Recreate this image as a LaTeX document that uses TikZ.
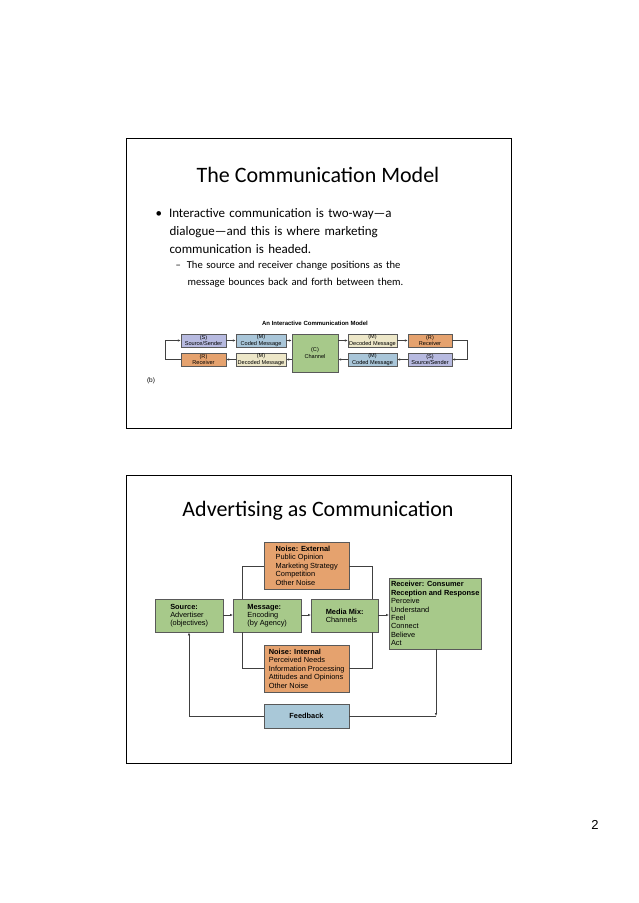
\documentclass[tikz,border=0pt]{standalone}
\usepackage{fontspec}
\setmainfont{Carlito}
\newfontfamily\arialf{Liberation Sans}
\usetikzlibrary{arrows.meta}
\definecolor{cpur}{HTML}{B7BAE0}
\definecolor{cblu}{HTML}{A9C6D9}
\definecolor{cbei}{HTML}{EDE7C8}
\definecolor{cgrn}{HTML}{A7C98A}
\definecolor{corg}{HTML}{E5A26E}
\definecolor{cfb}{HTML}{A9C8D8}
\tikzset{
 bx/.style={draw=gray!70!black,line width=0.4pt,inner sep=0pt,font=\arialf\fontsize{5.6}{6.6}\selectfont,align=center},
 bb/.style={draw=gray!70!black,line width=0.4pt,anchor=north west,inner sep=2.5pt,font=\arialf\fontsize{7.4}{8.4}\selectfont,align=left},
 ln/.style={draw=black!75,line width=0.7pt},
 ar/.style={ln,-{Latex[length=3pt,width=2.5pt]}},
 frame/.style={draw=black,line width=0.6pt}
}
\begin{document}
\begin{tikzpicture}[x=1pt,y=-1pt]
\useasboundingbox[fill=white] (0,0) rectangle (638,903);
% slide 1
\draw[frame] (126,138) rectangle (511,428);
\node[font=\fontsize{22}{26}\selectfont] (t1) at (318,175) {The Communication Model};
\node[anchor=north west,font=\fontsize{13}{18}\selectfont,align=left,text width=300pt] (b1) at (152,205)
 {\textbullet\hspace{7pt}Interactive communication is two-way---a\\
 \hspace{14pt}dialogue---and this is where marketing\\
 \hspace{14pt}communication is headed.};
\node[anchor=north west,font=\fontsize{10.6}{16.5}\selectfont,align=left,text width=300pt] (b2) at (172,258)
 {--\hspace{6pt}The source and receiver change positions as the\\
 \hspace{12pt}message bounces back and forth between them.};
\node[font=\arialf\bfseries\fontsize{6}{7}\selectfont] (mt) at (315,323) {An Interactive Communication Model};
\node[bx,fill=cpur,minimum width=45pt,minimum height=13pt] (s1) at (203.5,340.5) {(S)\\Source/Sender};
\node[bx,fill=corg,minimum width=45pt,minimum height=13pt] (r1) at (203.5,359.5) {(R)\\Receiver};
\node[bx,fill=cblu,minimum width=50pt,minimum height=13pt] (c1) at (261,340.5) {(M)\\Coded Message};
\node[bx,fill=cbei,minimum width=50pt,minimum height=13pt] (d1) at (261,359.5) {(M)\\Decoded Message};
\node[bx,fill=cgrn,minimum width=46pt,minimum height=38pt] (ch) at (315,353) {(C)\\Channel};
\node[bx,fill=cbei,minimum width=49pt,minimum height=13pt] (d2) at (372.5,340.5) {(M)\\Decoded Message};
\node[bx,fill=cblu,minimum width=49pt,minimum height=13pt] (c2) at (372.5,359.5) {(M)\\Coded Message};
\node[bx,fill=corg,minimum width=44pt,minimum height=13pt] (r2) at (430,340.5) {(R)\\Receiver};
\node[bx,fill=cpur,minimum width=44pt,minimum height=13pt] (s2) at (430,359.5) {(S)\\Source/Sender};
\draw[ar] (s1.east) -- (c1.west);
\draw[ar] (c1.east) -- (ch.west|-c1.east);
\draw[ar] (ch.east|-d2.west) -- (d2.west);
\draw[ar] (d2.east) -- (r2.west);
\draw[ar] (s2.west) -- (c2.east);
\draw[ar] (c2.west) -- (ch.east|-c2.west);
\draw[ar] (ch.west|-d1.east) -- (d1.east);
\draw[ar] (d1.west) -- (r1.east);
\draw[ar] (r1.west) -- ++(-15,0) |- (s1.west);
\draw[ar] (r2.east) -- ++(15,0) |- (s2.east);
\node[font=\arialf\fontsize{6.5}{8}\selectfont] (lb) at (151,381) {(b)};
% slide 2
\draw[frame] (126,475) rectangle (511,763);
\node[font=\fontsize{22}{26}\selectfont] (t2) at (318,511) {Advertising as Communication};
\node[bb,fill=corg,minimum width=85pt,minimum height=47pt] (ne) at (264,542) {\textbf{Noise: External}\\Public Opinion\\Marketing Strategy\\Competition\\Other Noise};
\node[bb,fill=cgrn,minimum width=68pt,minimum height=33pt] (src) at (155,599) {\textbf{Source:}\\Advertiser\\(objectives)};
\node[bb,fill=cgrn,minimum width=68pt,minimum height=33pt] (msg) at (233,599) {\textbf{Message:}\\Encoding\\(by Agency)};
\node[bb,fill=cgrn,minimum width=67pt,minimum height=33pt] (mm) at (311,599) {\textbf{Media Mix:}\\Channels};
\node[bb,fill=cgrn,minimum width=92pt,minimum height=71pt,inner sep=1.5pt] (rc) at (389,578) {\textbf{Receiver: Consumer}\\\textbf{Reception and Response}\\Perceive\\Understand\\Feel\\Connect\\Believe\\Act};
\node[bb,fill=corg,minimum width=85pt,minimum height=47pt] (ni) at (264,645) {\textbf{Noise: Internal}\\Perceived Needs\\Information Processing\\Attitudes and Opinions\\Other Noise};
\node[bx,fill=cfb,minimum width=85pt,minimum height=24pt,font=\arialf\bfseries\fontsize{7.4}{8.4}\selectfont] (fb) at (306.5,716) {Feedback};
\draw[ar] (src.east|-0,615) -- (msg.west|-0,615);
\draw[ar] (msg.east|-0,615) -- (mm.west|-0,615);
\draw[ar] (mm.east|-0,615) -- (rc.west|-0,615);
\draw[ln] (msg.north-|242,0) |- (ne.west|-0,566);
\draw[ln] (ne.east|-0,566) -| (mm.north-|372,0);
\draw[ln] (msg.south-|242,0) |- (ni.west|-0,668);
\draw[ln] (ni.east|-0,668) -| (mm.south-|372,0);
\coordinate (fr) at (436,716);
\coordinate (fl) at (189,716);
\draw[ar] (rc.south-|fr) -- (fr);
\draw[ln] (fr) -- (fb.east);
\draw[ln] (fb.west) -- (fl);
\draw[ar] (fl) -- (src.south-|fl);
\node[font=\arialf\fontsize{13}{15}\selectfont] (pg) at (595,825) {2};
\end{tikzpicture}
\end{document}
